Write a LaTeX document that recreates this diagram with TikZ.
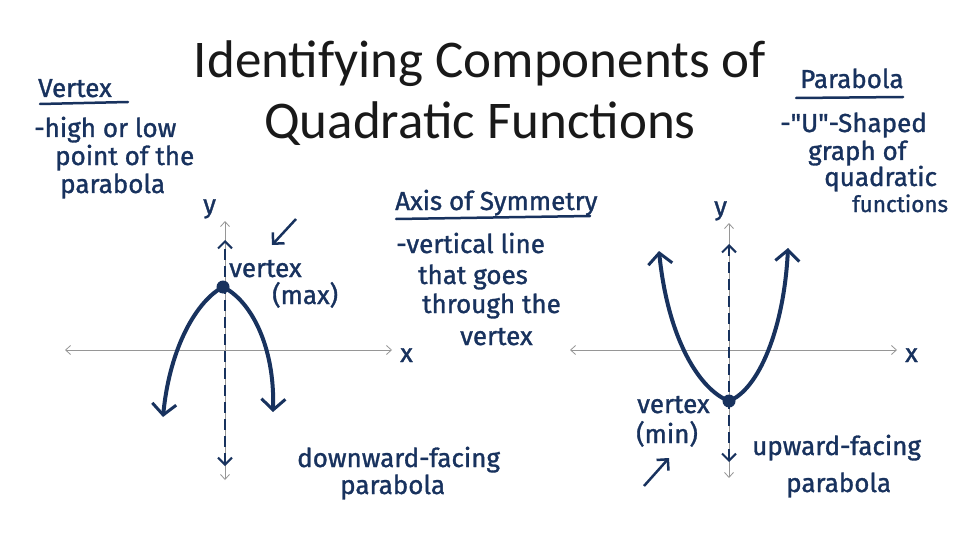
\documentclass[tikz,border=0pt]{standalone}
\usepackage{fontspec}
\setmainfont{Carlito}
\newfontfamily\handfont[FakeBold=1.2]{Fira Sans}
\usetikzlibrary{arrows.meta}
\definecolor{ink}{RGB}{24,50,94}
\definecolor{axisgray}{RGB}{150,150,150}
\tikzset{
  hand/.style={text=ink, font=\handfont\fontsize{26}{28}\selectfont, inner sep=0pt, anchor=base west},
  handsmall/.style={text=ink, font=\handfont\fontsize{22.5}{24}\selectfont, inner sep=0pt, anchor=base west},
  title/.style={text=black!90, font=\fontsize{53}{56}\selectfont, inner sep=0pt, anchor=base},
  axisline/.style={draw=axisgray, line width=0.8pt, {Straight Barb[length=5pt,width=9pt]}-{Straight Barb[length=5pt,width=9pt]}},
  symline/.style={draw=ink, line width=2.2pt, dash pattern=on 11pt off 6pt, {Straight Barb[length=7pt,width=14pt,line width=2pt]}-{Straight Barb[length=7pt,width=14pt,line width=2pt]}},
  curve/.style={draw=ink, line width=4pt, line cap=round},
  curvetip/.style={-{Straight Barb[length=11pt,width=24pt,line width=3pt]}},
  pointer/.style={draw=ink, line width=2.5pt, -{Straight Barb[length=8pt,width=16pt,line width=2.5pt]}},
  vdot/.style={circle, fill=ink, minimum size=13pt, inner sep=0pt},
  uline/.style={draw=ink, line width=2.5pt, line cap=round}
}
\begin{document}
\begin{tikzpicture}[x=1pt,y=-1pt]
\useasboundingbox (0,0) rectangle (960,540);
\fill[white] (0,0) rectangle (960,540);
% title
\node[title] (t1) at (480,78) {Identifying Components of};
\node[title] (t2) at (480,139) {Quadratic Functions};

% left notes
\node[hand] (vh) at (38,97) {Vertex};
\draw[uline] (40,104) -- (128,102);
\node[hand] (vn1) at (34,137) {-high or low};
\node[hand] (vn2) at (55,165) {point of the};
\node[hand] (vn3) at (60,193) {parabola};

% middle notes
\node[hand] (ah) at (395,210) {Axis of Symmetry};
\draw[uline] (396,219) -- (590,216);
\node[hand] (an1) at (396,253) {-vertical line};
\node[hand] (an2) at (418,284) {that goes};
\node[hand] (an3) at (422,313) {through the};
\node[hand] (an4) at (460,345) {vertex};

% right notes
\node[hand] (ph) at (800,88) {Parabola};
\draw[uline] (796,98) -- (903,97);
\node[hand] (pn1) at (780,132) {-"U"-Shaped};
\node[hand] (pn2) at (808,160) {graph of};
\node[hand] (pn3) at (824,186) {quadratic};
\node[handsmall] (pn4) at (852,212) {functions};

% left graph
\coordinate (lxl) at (65,350);
\coordinate (lxr) at (392,350);
\coordinate (lyt) at (225,221);
\coordinate (lyb) at (225,480);
\draw[axisline] (lxl) -- (lxr);
\draw[axisline] (lyb) -- (lyt);
\coordinate (lst) at (225,240);
\coordinate (lsb) at (225,466);
\draw[symline] (lsb) -- (lst);
\node[hand] (ly) at (203,213) {y};
\node[hand] (lx) at (400,362) {x};
\node[vdot] (v1) at (223,287) {};
\coordinate (l1) at (163,417);
\coordinate (l2) at (273,412);
\draw[curve,curvetip] (v1.center) .. controls (198,300) and (170,345) .. (l1);
\draw[curve,curvetip] (v1.center) .. controls (250,300) and (275,345) .. (l2);
\node[hand] (lvt) at (229,277) {vertex};
\node[hand] (lvm) at (272,304) {(max)};
\coordinate (lp1) at (296,219);
\coordinate (lp2) at (272,245);
\draw[pointer] (lp1) -- (lp2);
\node[hand] (ld1) at (297,467) {downward-facing};
\node[hand] (ld2) at (340,494) {parabola};

% right graph
\coordinate (rxl) at (570,350);
\coordinate (rxr) at (897,350);
\coordinate (ryt) at (729,223);
\coordinate (ryb) at (729,478);
\draw[axisline] (rxl) -- (rxr);
\draw[axisline] (ryb) -- (ryt);
\coordinate (rst) at (729,244);
\coordinate (rsb) at (729,462);
\draw[symline] (rsb) -- (rst);
\node[hand] (ry) at (714,215) {y};
\node[hand] (rx) at (905,362) {x};
\node[vdot] (v2) at (729,401) {};
\coordinate (r1) at (659,251);
\coordinate (r2) at (788,248);
\draw[curve,curvetip] (v2.center) .. controls (700,390) and (668,340) .. (r1);
\draw[curve,curvetip] (v2.center) .. controls (758,390) and (784,330) .. (r2);
\node[hand] (rvt) at (637,413) {vertex};
\node[hand] (rvm) at (636,443) {(min)};
\coordinate (rp1) at (644,486);
\coordinate (rp2) at (669,458);
\draw[pointer] (rp1) -- (rp2);
\node[hand] (ru1) at (752,455) {upward-facing};
\node[hand] (ru2) at (786,492) {parabola};
\end{tikzpicture}
\end{document}
